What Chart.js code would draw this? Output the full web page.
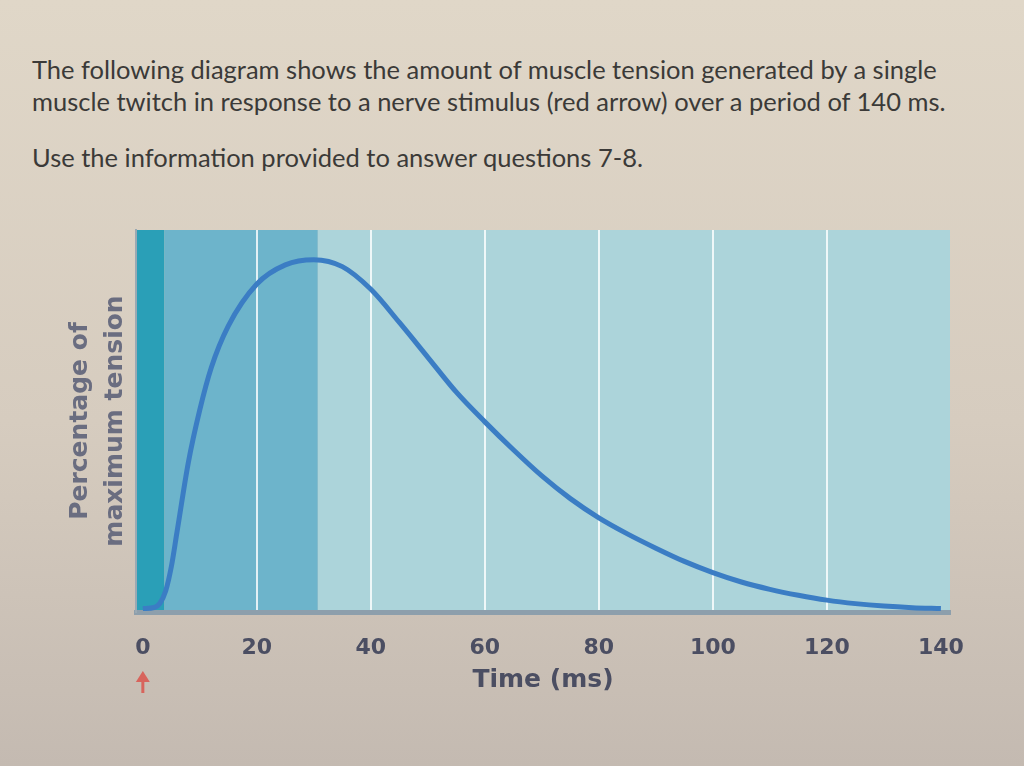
<!DOCTYPE html>
<html lang="en">
<head>
<meta charset="UTF-8">
<title>Muscle twitch</title>
<script src="https://cdn.jsdelivr.net/npm/chart.js@4.4.0/dist/chart.umd.min.js"></script>
<style>
  html, body { margin: 0; padding: 0; }
  body {
    width: 1024px; height: 766px; overflow: hidden; position: relative;
    background: linear-gradient(#e0d7c8, #d6ccbf 55%, #c4bab1);
    font-family: Lato, sans-serif;
  }
  .intro { position: absolute; left: 32px; top: 53px; color: #3b3a38; font-size: 25.5px; line-height: 32px; }
  .intro p { margin: 0 0 24px 0; }
  #wrap { position: absolute; left: 0; top: 0; width: 1024px; height: 766px; }
</style>
</head>
<body>
<div class="intro">
  <p>The following diagram shows the amount of muscle tension generated by a single<br>muscle twitch in response to a nerve stimulus (red arrow) over a period of 140 ms.</p>
  <p>Use the information provided to answer questions 7-8.</p>
</div>
<div id="wrap"><canvas id="chart1"></canvas></div>
<script>
// time (ms) and tension (% of maximum)
const timeMs =  [0, 2, 3, 4, 5, 6, 8, 10, 12, 15, 20, 25, 30, 35, 40, 45, 50, 55, 60, 65, 70, 75, 80, 85, 90, 95, 100, 105, 110, 115, 120, 125, 130, 135, 140];
const tension = [0, 0.3, 1.5, 5, 12, 22, 42, 57, 69, 81, 93, 98.5, 100, 98, 91.5, 82, 72, 62, 53.5, 45.5, 38, 31.5, 26, 21.4, 17.3, 13.5, 10.3, 7.6, 5.5, 3.8, 2.4, 1.4, 0.7, 0.25, 0];

// phases: latent, contraction, relaxation
const phaseStart = [-1.2, 3.8, 30.7];
const phaseEnd = [3.8, 30.7, 141.6];
const phaseColors = ['#2a9fb7', '#6db4cb', '#acd4da'];

const tickValues = [0, 20, 40, 60, 80, 100, 120, 140];
const stimulusAt = 0;

// coloured background bands behind the curve
const phaseBands = {
  id: 'phaseBands',
  beforeDraw(chart) {
    const { ctx, chartArea, scales } = chart;
    ctx.save();
    for (let i = 0; i < phaseStart.length; i++) {
      const x1 = scales.x.getPixelForValue(phaseStart[i]);
      const x2 = scales.x.getPixelForValue(phaseEnd[i]);
      ctx.fillStyle = phaseColors[i];
      ctx.fillRect(x1, chartArea.top, x2 - x1, chartArea.bottom - chartArea.top);
    }
    ctx.restore();
  }
};

// red arrow under 0 for the stimulus
const stimulusArrow = {
  id: 'stimulusArrow',
  afterDraw(chart) {
    const { ctx, scales } = chart;
    const x = scales.x.getPixelForValue(stimulusAt);
    const y = chart.chartArea.bottom + 59;
    ctx.save();
    ctx.strokeStyle = '#d8645c';
    ctx.fillStyle = '#d8645c';
    ctx.lineWidth = 3;
    ctx.beginPath();
    ctx.moveTo(x, y + 22);
    ctx.lineTo(x, y + 6);
    ctx.stroke();
    ctx.beginPath();
    ctx.moveTo(x, y);
    ctx.lineTo(x - 7, y + 11);
    ctx.lineTo(x + 7, y + 11);
    ctx.closePath();
    ctx.fill();
    ctx.restore();
  }
};

const ctx = document.getElementById('chart1');
new Chart(ctx, {
  type: 'line',
  data: {
    datasets: [{
      data: timeMs.map((t, i) => ({ x: t, y: tension[i] })),
      borderColor: '#3b7dc4',
      borderWidth: 5,
      pointRadius: 0,
      cubicInterpolationMode: 'monotone',
      fill: false
    }]
  },
  options: {
    responsive: true,
    maintainAspectRatio: false,
    animation: false,
    layout: { padding: { left: 63, top: 230, right: 74, bottom: 64 } },
    plugins: { legend: { display: false }, tooltip: { enabled: false } },
    scales: {
      x: {
        type: 'linear',
        min: -1.2,
        max: 141.6,
        afterBuildTicks(scale) { scale.ticks = tickValues.map(v => ({ value: v })); },
        afterFit(scale) { scale.height = 90; },
        grid: {
          // no white line at the two ends
          color: (c) => (c.tick && (c.tick.value === 0 || c.tick.value === 140)) ? 'rgba(0,0,0,0)' : 'rgba(255,255,255,0.8)',
          lineWidth: 2,
          drawTicks: false
        },
        border: { color: '#8d9fac', width: 5 },
        ticks: {
          padding: 23,
          color: '#4b4e62',
          font: { family: 'DejaVu Sans', size: 22, weight: 'bold' }
        },
        title: {
          display: true,
          text: 'Time (ms)',
          color: '#4b4e62',
          font: { family: 'DejaVu Sans', size: 25, weight: 'bold', lineHeight: '28px' },
          padding: { top: 0, bottom: 8 }
        }
      },
      y: {
        min: -1,
        max: 108.5,
        afterFit(scale) { scale.width = 73; },
        grid: { display: false },
        border: { color: '#9aa9b3', width: 2 },
        ticks: { display: false },
        title: {
          display: true,
          text: ['Percentage of', 'maximum tension'],
          color: '#6a6d80',
          font: { family: 'DejaVu Sans', size: 25, weight: 'bold', lineHeight: '35px' },
          padding: { top: 0, bottom: 0 }
        }
      }
    }
  },
  plugins: [phaseBands, stimulusArrow]
});
</script>
</body>
</html>
